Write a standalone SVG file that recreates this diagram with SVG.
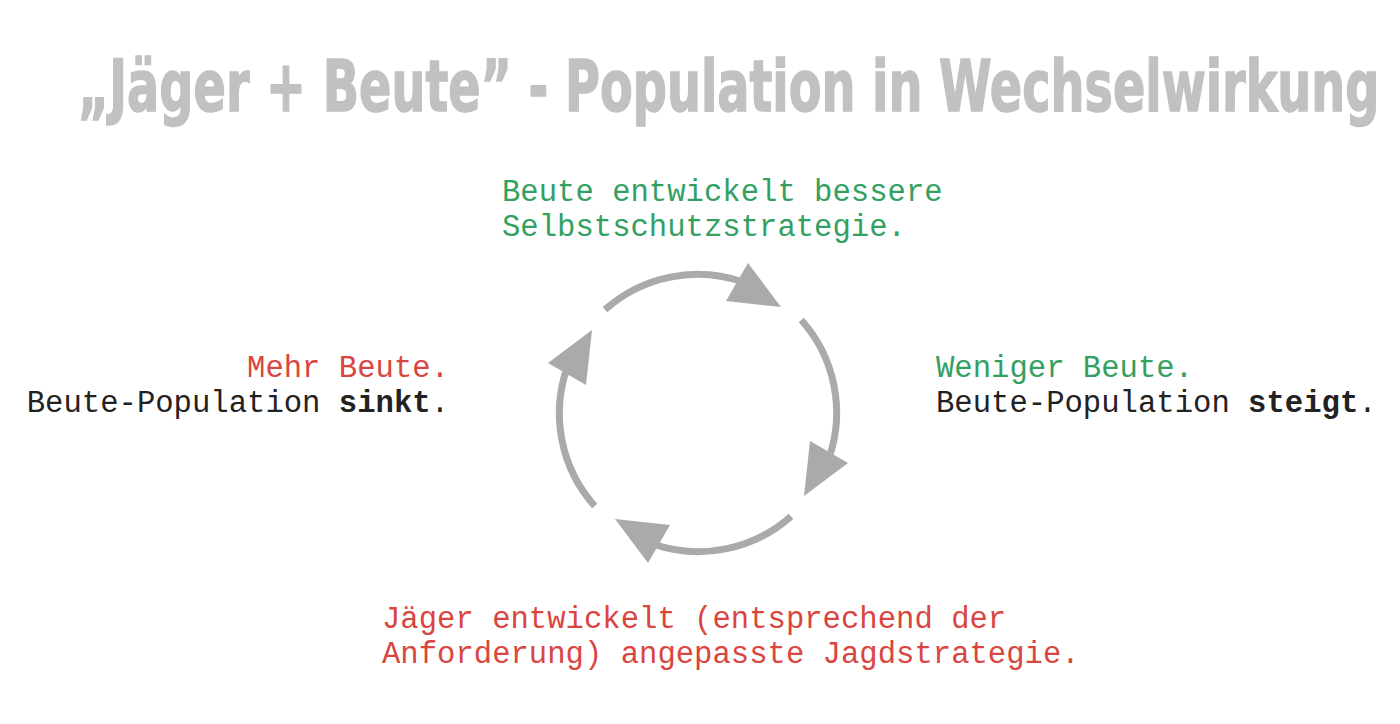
<svg xmlns="http://www.w3.org/2000/svg" xmlns:xlink="http://www.w3.org/1999/xlink" width="1400" height="724" viewBox="0 0 1400 724">
  <style>
    .title { font-family: "DejaVu Sans Condensed", "DejaVu Sans", sans-serif; font-weight: bold; font-size: 72px; fill: #c1c1c1; stroke: #c1c1c1; stroke-width: 1.5; }
    .t { font-family: "Liberation Mono", "Courier New", monospace; font-size: 30.6px; }
    .green { fill: #33a062; }
    .red { fill: #d9463f; }
    .black { fill: #222222; }
    .b { font-weight: bold; }
    .arc { fill: none; stroke: #aaaaaa; stroke-width: 7; }
    .head { fill: #aaaaaa; }
  </style>
  <defs>
    <g id="cyc">
      <path class="arc" d="M605,309.7 A139,139 0 0,1 743,282"/>
      <polygon class="head" points="726,301 781,307 748,263"/>
    </g>
  </defs>
  <rect width="1400" height="724" fill="#ffffff"/>
  <g id="title" transform="translate(78,111) scale(0.737,1)">
    <text class="title" x="0" y="0" textLength="1766" lengthAdjust="spacingAndGlyphs">„Jäger + Beute” - Population in Wechselwirkung</text>
  </g>

  <g id="connectors">
    <use xlink:href="#cyc"/>
    <use xlink:href="#cyc" transform="rotate(90 698 413)"/>
    <use xlink:href="#cyc" transform="rotate(180 698 413)"/>
    <use xlink:href="#cyc" transform="rotate(270 698 413)"/>
  </g>

  <g id="node-top">
    <text class="t green" x="502" y="201">Beute entwickelt bessere</text>
    <text class="t green" x="502" y="236">Selbstschutzstrategie.</text>
  </g>
  <g id="node-right">
    <text class="t green" x="936" y="377">Weniger Beute.</text>
    <text class="t black" x="936" y="412">Beute-Population <tspan class="b">steigt</tspan>.</text>
  </g>
  <g id="node-bottom">
    <text class="t red" x="382" y="628">Jäger entwickelt (entsprechend der</text>
    <text class="t red" x="382" y="663">Anforderung) angepasste Jagdstrategie.</text>
  </g>
  <g id="node-left">
    <text class="t red" x="449" y="377" text-anchor="end">Mehr Beute.</text>
    <text class="t black" x="449" y="412" text-anchor="end">Beute-Population <tspan class="b">sinkt</tspan>.</text>
  </g>
</svg>
